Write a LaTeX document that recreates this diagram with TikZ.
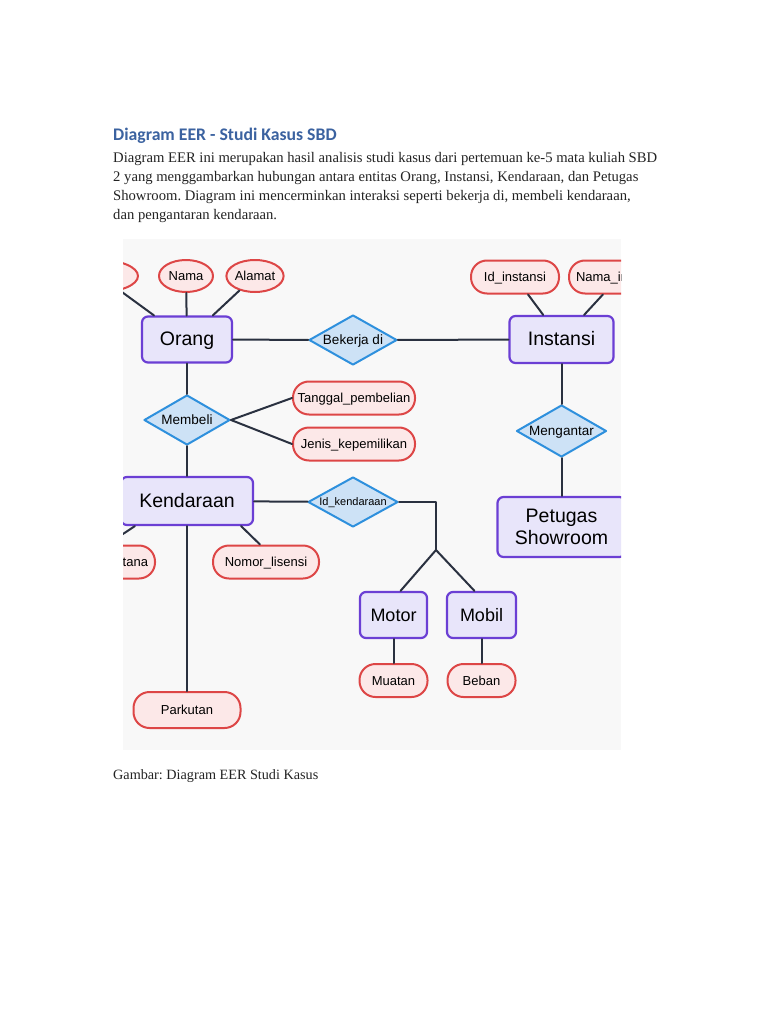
\documentclass[tikz,border=0pt]{standalone}
\usepackage{fontspec}
\setmainfont{Liberation Serif}
\newfontfamily\diagfont{Liberation Sans}
\newfontfamily\headfont{Carlito}
\usetikzlibrary{shapes.geometric}
\definecolor{entfill}{HTML}{E8E5FA}
\definecolor{entline}{HTML}{6B3FD4}
\definecolor{attfill}{HTML}{FCE8E8}
\definecolor{attline}{HTML}{DD4646}
\definecolor{relfill}{HTML}{CDE2F6}
\definecolor{relline}{HTML}{2E90DD}
\definecolor{linkc}{HTML}{2A3140}
\definecolor{panel}{HTML}{F8F8F8}
\definecolor{headblue}{HTML}{3B62A0}
\definecolor{bodyc}{HTML}{232323}
\frenchspacing

\begin{document}
\begin{tikzpicture}[line cap=round,line join=round,x=1pt,y=-1pt,
  entity/.style={draw=entline,fill=entfill,line width=2.2pt,rounded corners=6pt,inner sep=0pt,align=center,text height=14pt,text depth=2pt,font={\diagfont\fontsize{19.5}{22}\selectfont}},
  attr/.style={draw=attline,fill=attfill,line width=2pt,rounded corners=16pt,inner sep=0pt,minimum height=33pt,text height=9.4pt,text depth=0pt,font={\diagfont\fontsize{13}{15}\selectfont}},
  attrell/.style={ellipse,draw=attline,fill=attfill,line width=2pt,inner sep=0pt,minimum width=54pt,minimum height=32pt,text height=9.4pt,text depth=0pt,font={\diagfont\fontsize{13}{15}\selectfont}},
  rel/.style={diamond,aspect=2,draw=relline,fill=relfill,line width=2pt,inner sep=0pt,text height=9.7pt,text depth=0pt,font={\diagfont\fontsize{13.5}{15}\selectfont}},
  link/.style={draw=linkc,line width=2pt}]
\useasboundingbox (0,0) rectangle (768,1024);
\fill[white] (0,0) rectangle (768,1024);
\node[anchor=base west,inner sep=0pt,text=headblue,font={\headfont\bfseries\fontsize{17.7}{21}\selectfont}] (judul) at (113,141) {Diagram EER - Studi Kasus SBD};
\foreach \baris [count=\i] in {{Diagram EER ini merupakan hasil analisis studi kasus dari pertemuan ke-5 mata kuliah SBD},{2 yang menggambarkan hubungan antara entitas Orang, Instansi, Kendaraan, dan Petugas},{Showroom. Diagram ini mencerminkan interaksi seperti bekerja di, membeli kendaraan,},{dan pengantaran kendaraan.}}
\node[anchor=base west,inner sep=0pt,text=bodyc,font=\fontsize{14.65}{19}\selectfont] (baris\i) at (113,{144+19*\i}) {\baris};
\node[anchor=base west,inner sep=0pt,text=bodyc,font=\fontsize{14.2}{19}\selectfont] (gambar) at (113,779) {Gambar: Diagram EER Studi Kasus};
\fill[panel] (123,239) rectangle (621,750);
\begin{scope}
\clip (123,239) rectangle (621,750);
\node[entity,minimum width=90pt,minimum height=46pt] (orang) at (187,339.5) {Orang};
\node[attrell,minimum width=76pt] (atrkiri) at (100,276) {};
\node[attrell] (nama) at (186,276) {Nama};
\node[attrell] (alamat) at (255,276) {Alamat};
\node[rel,minimum width=88pt,minimum height=50pt] (bekerja) at (353,340) {Bekerja di};
\node[entity,minimum width=104pt,minimum height=47pt] (instansi) at (561.5,339.5) {Instansi};
\node[attr,minimum width=88pt] (idinstansi) at (515,277) {Id\_instansi};
\node[attr,minimum width=100pt] (namainstansi) at (619,277) {Nama\_instansi};
\node[rel,minimum width=86pt,minimum height=50pt] (membeli) at (187,420) {Membeli};
\node[attr,minimum width=122pt] (tanggal) at (354,398) {Tanggal\_pembelian};
\node[attr,minimum width=122pt] (jenis) at (354,444) {Jenis\_kepemilikan};
\node[entity,minimum width=132pt,minimum height=48pt] (kendaraan) at (187,501) {Kendaraan};
\node[rel,minimum width=90pt,minimum height=50pt,text height=7.9pt,font={\diagfont\fontsize{11}{13}\selectfont}] (idkendaraan) at (353,502) {Id\_kendaraan};
\node[attr,minimum width=96pt,text width=82pt,align=right] (atrtana) at (107,562) {tana};
\node[attr,minimum width=106pt] (nomor) at (266,562) {Nomor\_lisensi};
\node[attr,minimum width=107pt,minimum height=36pt] (parkutan) at (187,710) {Parkutan};
\node[rel,minimum width=90pt,minimum height=52pt] (mengantar) at (561.5,431) {Mengantar};
\node[entity,minimum width=128pt,minimum height=60pt,text height=,text depth=] (petugas) at (561.5,527) {Petugas\\Showroom};
\node[entity,minimum width=67pt,minimum height=46pt,text height=13pt,text depth=1pt,font={\diagfont\fontsize{18}{21}\selectfont}] (motor) at (393.5,615) {Motor};
\node[entity,minimum width=69pt,minimum height=46pt,text height=13pt,text depth=1pt,font={\diagfont\fontsize{18}{21}\selectfont}] (mobil) at (481.5,615) {Mobil};
\node[attr,minimum width=68pt] (muatan) at (393.5,680.5) {Muatan};
\node[attr,minimum width=68pt] (beban) at (481.5,680.5) {Beban};
\coordinate (sudut) at (436,502);
\coordinate (isa) at (436,550);
\draw[link] (atrkiri) -- (orang);
\draw[link] (nama) -- (orang);
\draw[link] (alamat) -- (orang);
\draw[link] (orang) -- (bekerja);
\draw[link] (bekerja) -- (instansi);
\draw[link] (idinstansi) -- (instansi);
\draw[link] (namainstansi) -- (instansi);
\draw[link] (orang) -- (membeli);
\draw[link] (membeli.east) -- (tanggal.west);
\draw[link] (membeli.east) -- (jenis.west);
\draw[link] (membeli) -- (kendaraan);
\draw[link] (atrtana.north) -- ([xshift=15pt]kendaraan.south west);
\draw[link] ([xshift=-6pt]nomor.north) -- ([xshift=-13pt]kendaraan.south east);
\draw[link] (kendaraan) -- (parkutan);
\draw[link] (kendaraan) -- (idkendaraan);
\draw[link] (idkendaraan.east) -- (sudut) -- (isa);
\draw[link] (isa) -- ([xshift=7pt]motor.north);
\draw[link] (isa) -- ([xshift=-7pt]mobil.north);
\draw[link] (motor) -- (muatan);
\draw[link] (mobil) -- (beban);
\draw[link] (instansi) -- (mengantar);
\draw[link] (mengantar) -- (petugas);
\end{scope}
\end{tikzpicture}
\end{document}
